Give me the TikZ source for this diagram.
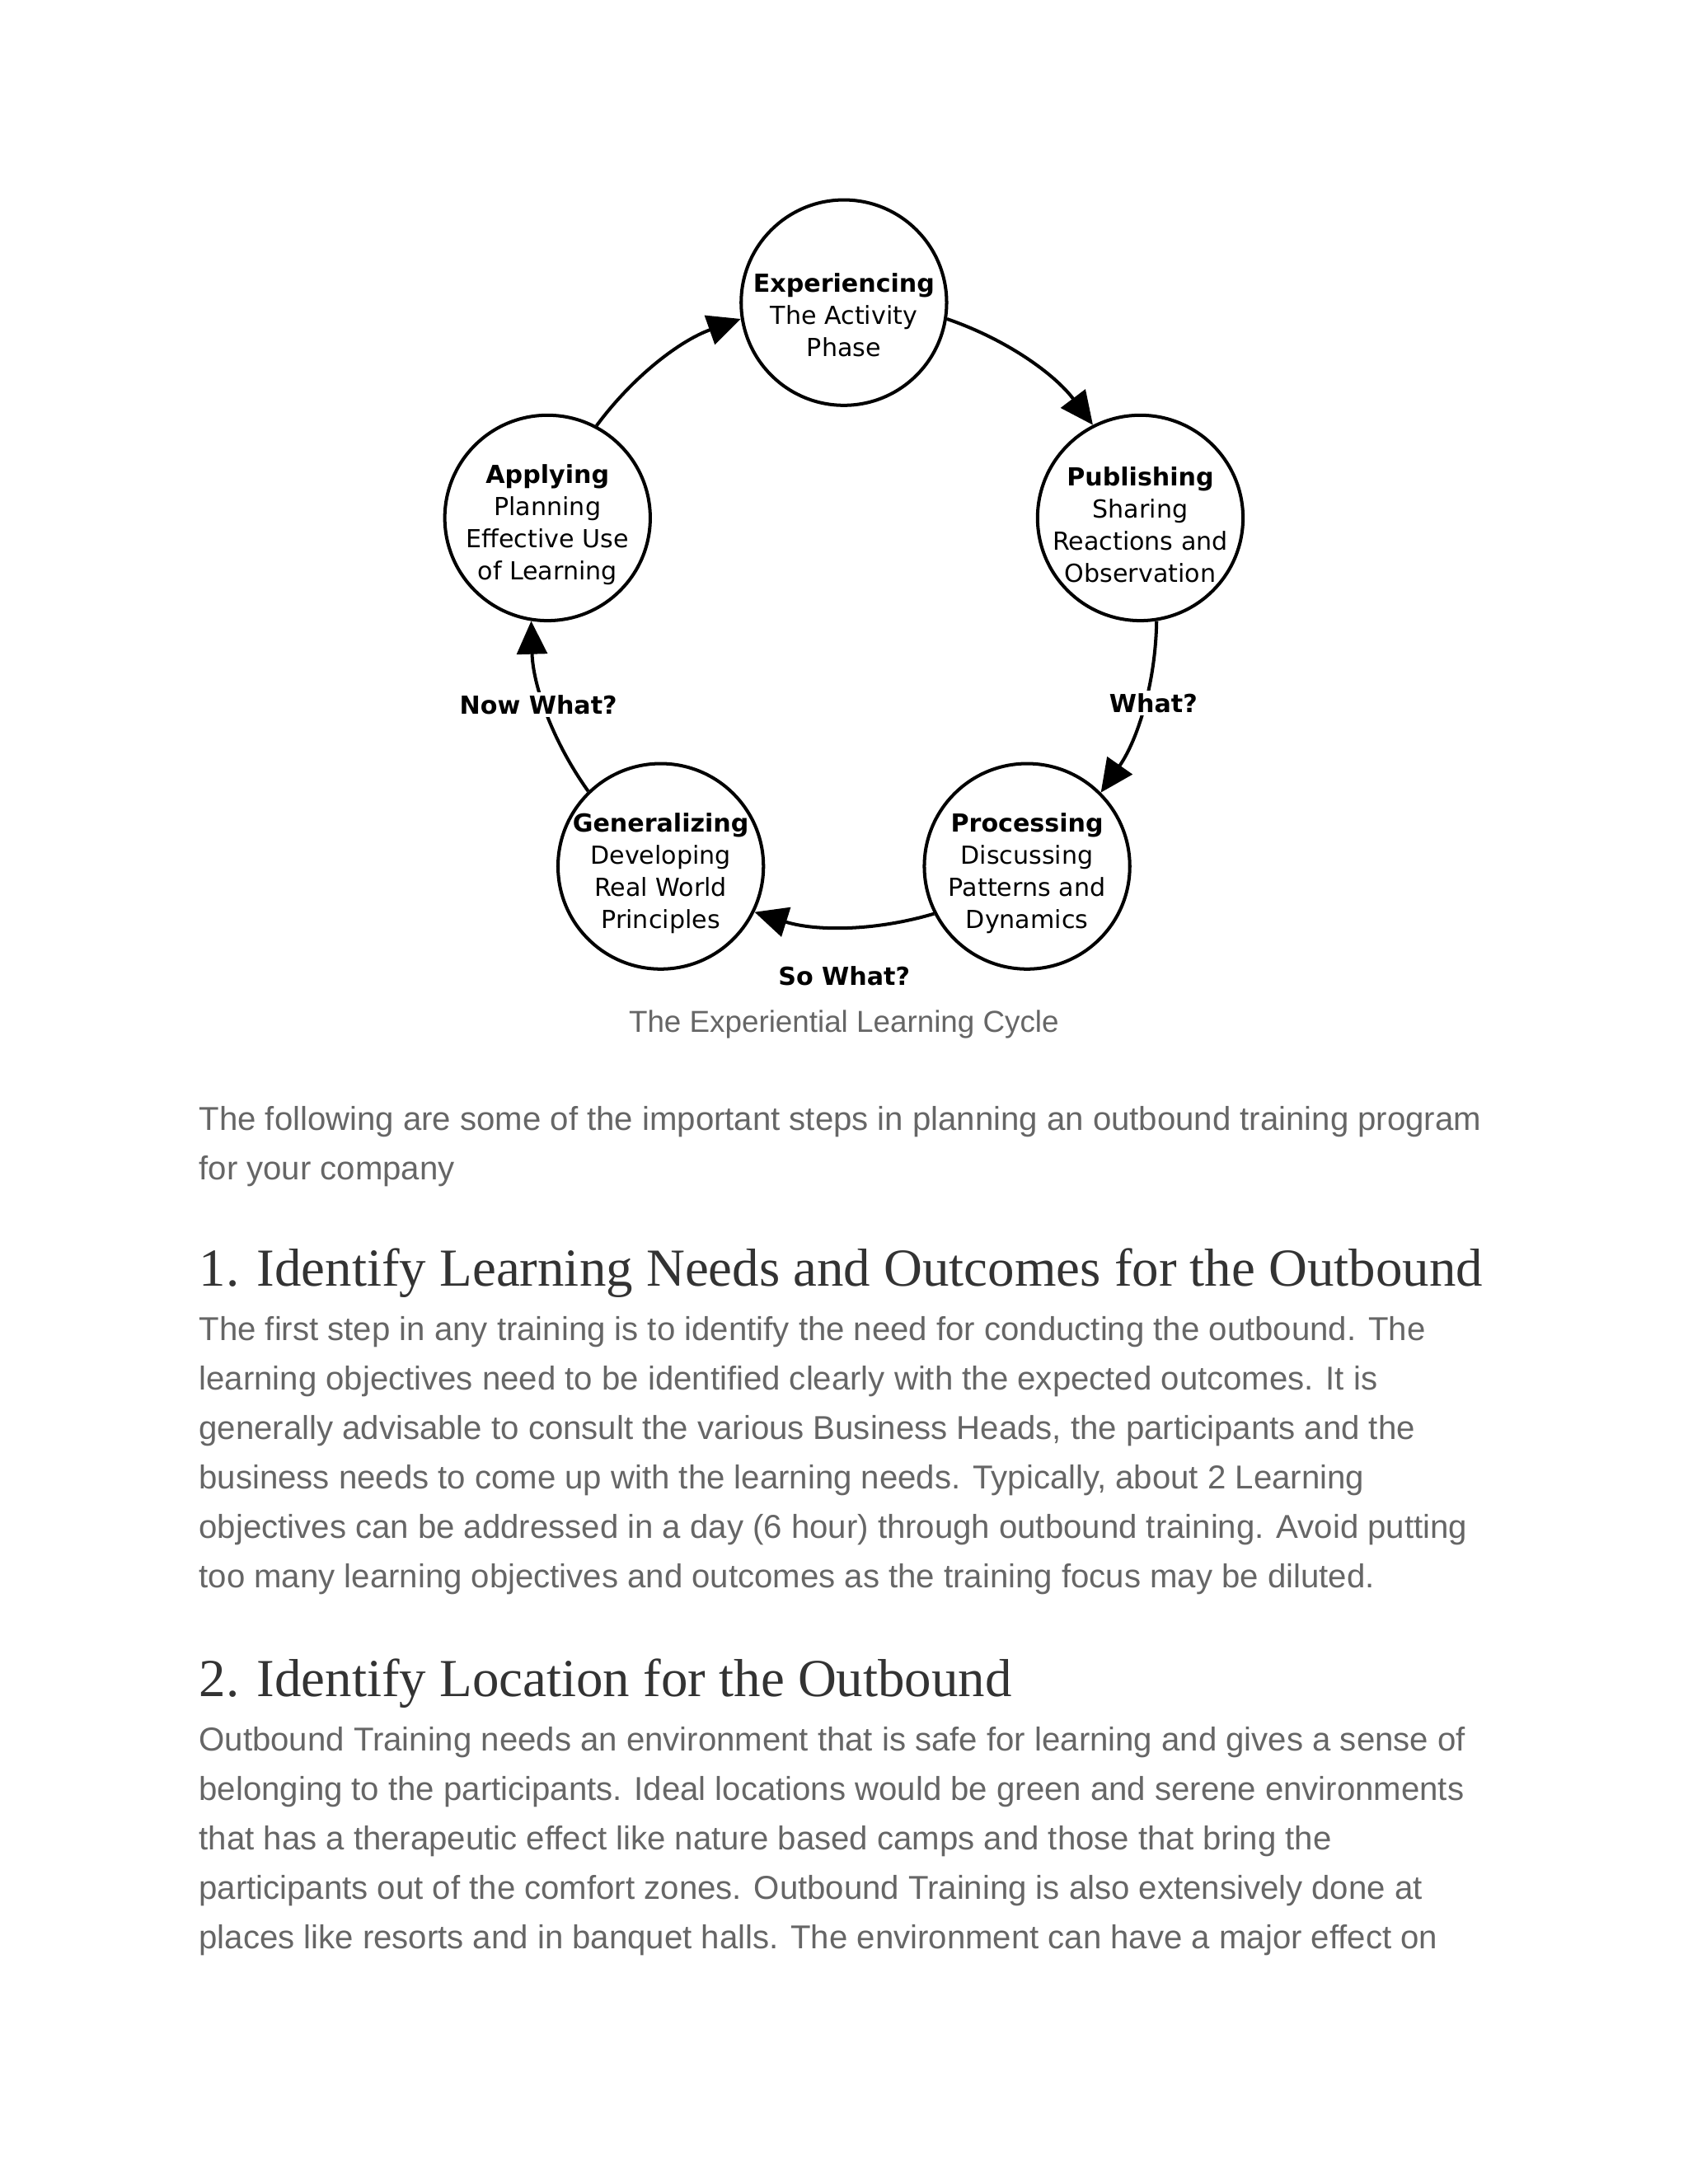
\documentclass[tikz,border=0pt]{standalone}
\usepackage{fontspec}
\usetikzlibrary{arrows.meta,calc}
\newfontfamily\cyclefont{DejaVu Sans}
\newfontfamily\bodyfont{Liberation Sans}
\newfontfamily\headfont{Liberation Serif}
\definecolor{bodygray}{HTML}{666666}
\definecolor{headgray}{HTML}{333333}
\begin{document}
\begin{tikzpicture}[x=0.5pt,y=0.5pt,
    phase/.style={circle, draw, line width=1.2pt, minimum size=74.5pt, inner sep=0pt},
    phasetxt/.style={align=center, inner sep=0pt, yshift=-2.5pt, font=\cyclefont\fontsize{9}{11.7}\selectfont},
    cycarrow/.style={line width=1.2pt, -{Triangle[length=12pt,width=11pt]}},
    qlabel/.style={fill=white, inner sep=1pt, font=\cyclefont\bfseries\fontsize{9}{11}\selectfont},
    bodytxt/.style={anchor=base west, inner sep=0pt, text=bodygray, font=\bodyfont\fontsize{12}{14}\selectfont},
    headtxt/.style={anchor=base west, inner sep=0pt, text=headgray, font=\headfont\fontsize{19.4}{22}\selectfont}]
      \fill[white] (0,0) rectangle (1224,1584);
      \useasboundingbox (0,0) rectangle (1224,1584);
      % the cycle
      \coordinate (hub) at (612,1138.5);
      \node[phase] (exp) at ($(hub)+(90:226)$) {};
      \node[phase] (pub) at ($(hub)+(18:226)$) {};
      \node[phase] (proc) at ($(hub)+(-54:226)$) {};
      \node[phase] (gen) at ($(hub)+(-126:226)$) {};
      \node[phase] (app) at ($(hub)+(162:226)$) {};
      \node[phasetxt, yshift=-2pt] (exp-txt) at (exp) {\textbf{Experiencing}\\The Activity\\Phase};
      \node[phasetxt] (pub-txt) at (pub) {\textbf{Publishing}\\Sharing\\Reactions and\\Observation};
      \node[phasetxt] (proc-txt) at (proc) {\textbf{Processing}\\Discussing\\Patterns and\\Dynamics};
      \node[phasetxt] (gen-txt) at (gen) {\textbf{Generalizing}\\Developing\\Real World\\Principles};
      \node[phasetxt] (app-txt) at (app) {\textbf{Applying}\\Planning\\Effective Use\\of Learning};
      \draw[cycarrow] (app.62.5) to[bend left=17, looseness=0.9] (exp.189.5);
      \draw[cycarrow] (exp.-9.5) to[bend left=17, looseness=0.9] (pub.117.5);
      \draw[cycarrow] (pub.-81.5) to[bend left=17, looseness=0.9]
        node[qlabel, pos=0.44, xshift=3pt, yshift=-0.8pt] (what) {What?} (proc.45.5);
      \draw[cycarrow] (proc.-153.5) to[bend left=17, looseness=0.9]
        node[qlabel, midway, fill=none, yshift=-17.8pt] (sowhat) {So What?} (gen.-26.5);
      \draw[cycarrow] (gen.134.5) to[bend left=17, looseness=0.9]
        node[qlabel, pos=0.55, xshift=-2pt, yshift=-1pt] (nowwhat) {Now What?} (app.261.5);
      \node[text=bodygray, font=\bodyfont\fontsize{11}{13}\selectfont] (caption) at (612,841) {The Experiential Learning Cycle};
      % the text below
      \foreach \txt [count=\i] in {The following are some of the important steps in planning an outbound training program,
          for your company}
        \node[bodytxt] (intro-\i) at (144,{800-35.8*\i}) {\txt};
      \node[headtxt] (head1) at (144,651.3) {1. Identify Learning Needs and Outcomes for the Outbound};
      \foreach \txt [count=\i] in {The first step in any training is to identify the need for conducting the outbound. The,
          learning objectives need to be identified clearly with the expected outcomes. It is,
          {generally advisable to consult the various Business Heads, the participants and the},
          {business needs to come up with the learning needs. Typically, about 2 Learning},
          objectives can be addressed in a day (6 hour) through outbound training. Avoid putting,
          too many learning objectives and outcomes as the training focus may be diluted.}
        \node[bodytxt] (para1-\i) at (144,{647.3-35.8*\i}) {\txt};
      \node[headtxt] (head2) at (144,353.8) {2. Identify Location for the Outbound};
      \foreach \txt [count=\i] in {Outbound Training needs an environment that is safe for learning and gives a sense of,
          belonging to the participants. Ideal locations would be green and serene environments,
          that has a therapeutic effect like nature based camps and those that bring the,
          participants out of the comfort zones. Outbound Training is also extensively done at,
          places like resorts and in banquet halls. The environment can have a major effect on}
        \node[bodytxt] (para2-\i) at (144,{349.8-35.8*\i}) {\txt};
\end{tikzpicture}
\end{document}
